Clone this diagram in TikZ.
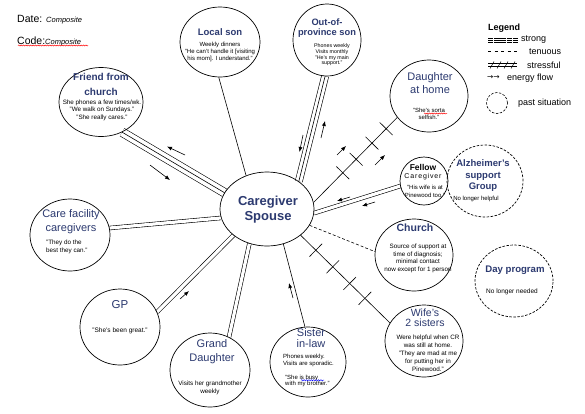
\documentclass[tikz,border=0pt]{standalone}
\usepackage{fontspec}
\setmainfont{Liberation Sans}
\newfontfamily\dejavu{DejaVu Sans}
\usetikzlibrary{shapes.geometric,decorations.markings,decorations.pathmorphing,arrows.meta}
\definecolor{navy}{RGB}{44,58,112}
\newcommand\myfs[2]{\fontsize{#1}{#2}\selectfont}
\newcommand\mytick{\draw[line width=0.6pt,solid] (0,-9pt)--(0,9pt);}
\pgfdeclarelayer{bg}
\pgfsetlayers{bg,main}
\begin{document}
\begin{tikzpicture}[x=1pt,y=-1pt,
 bub/.style={ellipse,draw,line width=0.7pt,inner sep=0pt},
 pastbub/.style={bub,dash pattern=on 2.5pt off 1.5pt},
 ttl/.style={text=navy,align=center,inner sep=0pt},
 bdy/.style={align=center,inner sep=0pt},
 conn/.style={line width=0.6pt},
 dbl/.style={conn,double,double distance=3.2pt},
 trp/.style={conn,double,double distance=#1},
 eflow/.style={line width=0.6pt,-{Latex[length=5pt,width=4pt]}},
 squig/.style={decorate,decoration={snake,amplitude=0.5pt,segment length=2.4pt},line width=0.5pt},
]
\begin{pgfonlayer}{bg}
\fill[white] (0,0) rectangle (585,413);
\end{pgfonlayer}
\useasboundingbox (0,0) rectangle (585,413);

% ---------- header ----------
\node[anchor=west,inner sep=0,font=\myfs{10.5}{12}] (date) at (17,20) {Date: {\itshape\myfs{7.5}{8}Composite}};
\node[anchor=west,inner sep=0,font=\myfs{10.5}{12}] (code) at (17,41) {Code:{\itshape\myfs{7.5}{8}Composite}};
\draw[red,squig] (18,45.5) -- (88,45.5);

% ---------- bubbles ----------
\node[bub,minimum width=94,minimum height=74] (cs) at (267,209) {};
\node[bub,minimum width=84,minimum height=69] (friend) at (101,102) {};
\node[bub,minimum width=80,minimum height=70] (local) at (220,42) {};
\node[bub,minimum width=68,minimum height=72] (oop) at (327,40) {};
\node[bub,minimum width=78,minimum height=72] (daughter) at (429,96) {};
\node[pastbub,minimum width=76,minimum height=72] (alz) at (485,181) {};
\node[bub,minimum width=48,minimum height=48] (fellow) at (424,181) {};
\node[bub,minimum width=78,minimum height=72] (church) at (414,255) {};
\node[pastbub,minimum width=78,minimum height=72] (day) at (514,281) {};
\node[bub,minimum width=78,minimum height=72] (sisters) at (424,341) {};
\node[bub,minimum width=76,minimum height=70] (sil) at (308,362) {};
\node[bub,minimum width=80,minimum height=74] (gd) at (210,370) {};
\node[bub,minimum width=80,minimum height=76] (gp) at (120,327) {};
\node[bub,minimum width=80,minimum height=72] (cf) at (70,235) {};

% ---------- texts ----------
\node[ttl,font=\bfseries\myfs{13}{15}] (tcs) at (268,209.5) {Caregiver\\Spouse};

\node[ttl,font=\bfseries\myfs{10}{15}] (tfriend) at (101,84.5) {Friend from\\church};
\node[bdy,font=\myfs{6.3}{7.5}] (bfriend) at (102,110) {She phones a few times/wk.\\"We walk on Sundays."\\"She really cares."};

\node[ttl,font=\bfseries\myfs{9.5}{11}] (tlocal) at (220,32) {Local son};
\node[bdy,font=\myfs{6}{7}] (blocal) at (220,52) {Weekly dinners\\"He can't handle it [visiting\\his mom]. I understand."};

\node[ttl,font=\bfseries\myfs{9.3}{10}] (toop) at (327,28) {Out-of-\\province son};
\node[bdy,font=\myfs{5.3}{5.7}] (boop) at (332,55) {Phones weekly\\Visits monthly\\"He's my main\\support."};

\node[ttl,font=\myfs{11}{13}] (tdaughter) at (430,83.5) {Daughter\\at home};
\node[bdy,font=\myfs{6}{7}] (bdaughter) at (429,113.5) {"She's sorta\\selfish."};
\draw[red,squig] (424,113.5) -- (447,113.5);

\node[inner sep=0,font=\bfseries\myfs{8.5}{9}] (tfellow) at (423,167) {Fellow};
\node[inner sep=0,font=\myfs{7}{8}\addfontfeatures{LetterSpace=12}] (tfellow2) at (423,177) {Caregiver};
\node[bdy,font=\myfs{6}{8}] (bfellow) at (425,191) {"His wife is at\\Pinewood too."};

\node[ttl,font=\bfseries\myfs{9.5}{11.5}] (talz) at (483,176) {Alzheimer's\\support\\Group};
\node[bdy,font=\myfs{6}{7}] (balz) at (476,199) {No longer helpful};

\node[ttl,font=\bfseries\myfs{10.5}{12}] (tchurch) at (415,228) {Church};
\node[bdy,font=\myfs{6.3}{7.7}] (bchurch) at (418,258.5) {Source of support at\\time of diagnosis;\\minimal contact\\now except for 1 person};

\node[ttl,font=\bfseries\myfs{9.6}{11}] (tday) at (515,270) {Day program};
\node[bdy,font=\myfs{6.5}{7.5}] (bday) at (512,292) {No longer needed};

\node[ttl,font=\myfs{10.5}{10}] (tsisters) at (425,318) {Wife's\\2 sisters};
\node[bdy,font=\myfs{6.3}{8}] (bsisters) at (428,353.5) {Were helpful when CR\\was still at home.\\"They are mad at me\\for putting her in\\Pinewood."};

\node[ttl,font=\myfs{11}{10.5}] (tsil) at (311,338) {Sister\\in-law};
\node[bdy,align=left,anchor=west,font=\myfs{6}{7}] (bsil) at (283,360.5) {Phones weekly.\\Visits are sporadic.};
\node[bdy,align=left,anchor=west,font=\myfs{6}{6.5}] (bsil2) at (285,381) {"She is busy\\with my brother."};
\draw[blue,squig] (301,380.2) -- (324,380.2);

\node[ttl,font=\myfs{11}{14}] (tgd) at (212,352) {Grand\\Daughter};
\node[bdy,font=\myfs{6.3}{8}] (bgd) at (210,388) {Visits her grandmother\\weekly};

\node[ttl,font=\myfs{11.5}{13}] (tgp) at (120,305) {GP};
\node[bdy,font=\myfs{6.5}{8}] (bgp) at (120,331) {"She's been great."};

\node[ttl,font=\myfs{11}{14}] (tcf) at (71,222) {Care facility\\caregivers};
\node[bdy,align=left,anchor=west,font=\myfs{6.3}{8}] (bcf) at (46,247) {"They do the\\best they can."};

% ---------- connectors ----------
\begin{pgfonlayer}{bg}
\draw[trp=8pt] (friend.305) -- (cs.159);
\draw[conn] (friend.305) -- (cs.159);
\draw[conn] (local.268) -- (cs.122);
\draw[trp=6.5pt] (oop.267) -- (cs.41);
\draw[conn] (oop.267) -- (cs.41);
\draw[conn,postaction={decorate},decoration={markings,
  mark=at position 0.35 with {\mytick}, mark=at position 0.51 with {\mytick},
  mark=at position 0.70 with {\mytick}, mark=at position 0.87 with {\mytick}}]
  (cs.8) -- (daughter.214);
\draw[dbl] (cs.355) -- (fellow.192);
\draw[conn,dash pattern=on 3pt off 2pt] (cs.339) -- (church.175);
\draw[conn,postaction={decorate},decoration={markings,
  mark=at position 0.17 with {\mytick}, mark=at position 0.36 with {\mytick},
  mark=at position 0.55 with {\mytick}, mark=at position 0.72 with {\mytick}}]
  (cs.322) -- (sisters.152);
\draw[conn] (cs.295) -- (sil.95);
\draw[dbl] (cs.243) -- (gd.60);
\draw[dbl] (cs.218.5) -- (gp.22);
\draw[dbl] (cs.191) -- (cf.10);
\end{pgfonlayer}

% ---------- energy flow arrows ----------
\draw[eflow] (185,155) -- (167,146.5);
\draw[eflow] (150,165) -- (170,180);
\draw[eflow] (303,135) -- (299.5,152);
\draw[eflow] (321,138) -- (325,121);
\draw[eflow] (337,155) -- (346,146);
\draw[eflow] (375,165) -- (385,155);
\draw[eflow] (350,197) -- (337,201);
\draw[eflow] (375,202) -- (362,206);
\draw[eflow] (293,298) -- (289,283);
\draw[eflow] (180,299) -- (189,291);

% ---------- legend ----------
\node[anchor=west,inner sep=0,font=\bfseries\myfs{9}{10}] (lg) at (488,28) {Legend};
\foreach \xx in {488,494.2,500.4,506.6,512.8}
  \foreach \yy in {38,40,42} \draw[line width=0.5pt] (\xx,\yy) -- (\xx+5.4,\yy);
\node[anchor=west,inner sep=0,font=\myfs{9}{10}] (lgst) at (521,40) {strong};
\draw[conn,dash pattern=on 3pt off 3.5pt] (488,51.5) -- (519,51.5);
\node[anchor=west,inner sep=0,font=\myfs{9}{10}] (lgt) at (529,51.5) {tenuous};
\draw[line width=0.5pt] (488,63.5) -- (517,63.5) (488,66.5) -- (517,66.5);
\foreach \xx in {492,499,506,513} \draw[line width=0.5pt] (\xx-2,68.5) -- (\xx+2,61.5);
\node[anchor=west,inner sep=0,font=\myfs{9}{10}] (lgss) at (527,65) {stressful};
\node[anchor=west,inner sep=0,font=\dejavu\myfs{7.5}{8}] (lga) at (487,78) {→→};
\node[anchor=west,inner sep=0,font=\myfs{9}{10}] (lgat) at (507,78) {energy flow};
\node[circle,draw,dash pattern=on 2.5pt off 1.5pt,line width=0.6pt,minimum size=21,inner sep=0] (lgp) at (497,103) {};
\node[anchor=west,inner sep=0,font=\myfs{9}{10}] (lgpt) at (518,103) {past situation};
\end{tikzpicture}
\end{document}
